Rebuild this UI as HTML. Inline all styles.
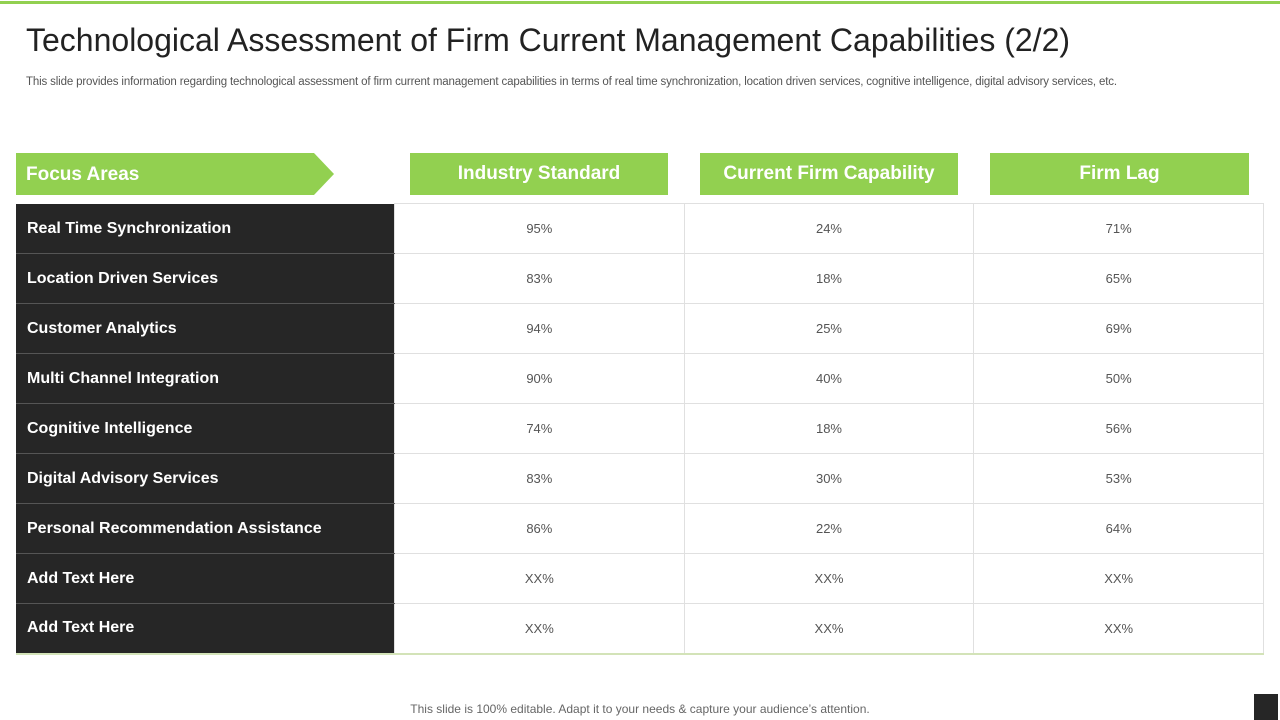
<!DOCTYPE html>
<html><head><meta charset="utf-8"><style>
*{margin:0;padding:0;box-sizing:border-box}
body{width:1280px;height:720px;background:#fff;position:relative;overflow:hidden;font-family:"Liberation Sans",sans-serif}
.abs{position:absolute}
.hdr{position:absolute;top:153px;height:42px;background:#92d050;color:#fff;font-weight:bold;font-size:19px;line-height:42px;text-align:center}
table{position:absolute;left:16px;top:203px;border-collapse:collapse;width:1248px}
td{height:50px;border:1px solid #e0e0e0;text-align:center;font-size:13px;color:#555}
td.lab{background:#262626;color:#fff;font-weight:bold;font-size:16px;text-align:left;padding-left:10px;width:378px;border-color:#fff #e0e0e0 #555 #262626}
tr:last-child td{border-bottom:2px solid #d3e3b8}
</style></head><body>
<div class="abs" style="left:0;top:1px;width:1280px;height:3px;background:#92d050"></div>
<div class="abs" style="left:26px;top:22px;font-size:32px;color:#222">Technological Assessment of Firm Current Management Capabilities (2/2)</div>
<div class="abs" style="left:26px;top:76px;font-size:11.5px;color:#555;letter-spacing:-0.15px">This slide provides information regarding technological assessment of firm current management capabilities in terms of real time synchronization, location driven services, cognitive intelligence, digital advisory services, etc.</div>
<svg class="abs" style="left:16px;top:153px" width="320" height="42"><polygon points="0,0 298,0 318,21 298,42 0,42" fill="#92d050"/><text x="10" y="27" fill="#fff" font-weight="bold" font-size="19" font-family="Liberation Sans, sans-serif">Focus Areas</text></svg>
<div class="hdr" style="left:410px;width:258px">Industry Standard</div>
<div class="hdr" style="left:700px;width:258px">Current Firm Capability</div>
<div class="hdr" style="left:990px;width:259px">Firm Lag</div>
<table>
<tr><td class="lab">Real Time Synchronization</td><td>95%</td><td>24%</td><td>71%</td></tr>
<tr><td class="lab">Location Driven Services</td><td>83%</td><td>18%</td><td>65%</td></tr>
<tr><td class="lab">Customer Analytics</td><td>94%</td><td>25%</td><td>69%</td></tr>
<tr><td class="lab">Multi Channel Integration</td><td>90%</td><td>40%</td><td>50%</td></tr>
<tr><td class="lab">Cognitive Intelligence</td><td>74%</td><td>18%</td><td>56%</td></tr>
<tr><td class="lab">Digital Advisory Services</td><td>83%</td><td>30%</td><td>53%</td></tr>
<tr><td class="lab">Personal Recommendation Assistance</td><td>86%</td><td>22%</td><td>64%</td></tr>
<tr><td class="lab">Add Text Here</td><td>XX%</td><td>XX%</td><td>XX%</td></tr>
<tr><td class="lab">Add Text Here</td><td>XX%</td><td>XX%</td><td>XX%</td></tr>
</table>
<div class="abs" style="left:0;width:1280px;top:702px;text-align:center;font-size:12px;color:#666">This slide is 100% editable. Adapt it to your needs &amp; capture your audience’s attention.</div>
<div class="abs" style="left:1254px;top:694px;width:24px;height:26px;background:#262626"></div>
</body></html>
